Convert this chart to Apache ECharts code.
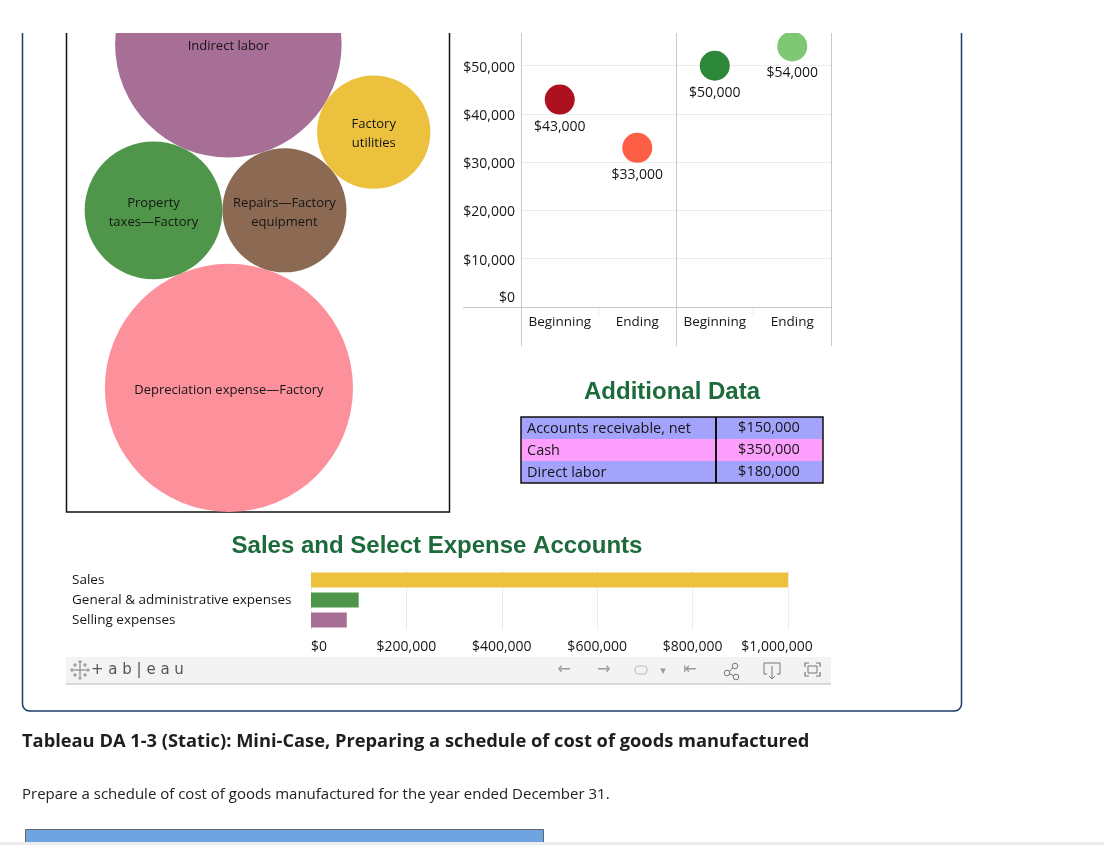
<!DOCTYPE html>
<html><head><meta charset="utf-8">
<script src="https://cdn.jsdelivr.net/npm/echarts@6/dist/echarts.min.js"></script>
<style>html,body{margin:0;padding:0;background:#fff;overflow:hidden}#c{width:1104px;height:845px}</style>
</head><body><div id="c"></div>
<script>
// ---------------- DATA ----------------
const bubbleNames  = ['Depreciation expense—Factory','Property taxes—Factory','Repairs—Factory equipment','Indirect labor','Factory utilities'];
const bubbleLabels = ['Depreciation expense—Factory','Property\ntaxes—Factory','Repairs—Factory\nequipment','Indirect labor','Factory\nutilities'];
const bubbleValues = [120000, 37000, 30000, 100000, 25000];

const inventoryCategories = ['Beginning','Ending'];
const rawMaterialsInventory = [43000, 33000];
const workInProcessInventory = [50000, 54000];
const inventoryTicks = [0, 10000, 20000, 30000, 40000, 50000];

const tableLabels = ['Accounts receivable, net','Cash','Direct labor'];
const tableValues = [150000, 350000, 180000];

const barCategories = ['Sales','General & administrative expenses','Selling expenses'];
const barValues = [1000000, 100000, 75000];
const barTicks = [0, 200000, 400000, 600000, 800000, 1000000];

// ---------------- STYLES ----------------
const bubbleColors = ['#fd919b','#50964a','#8c6952','#a76e96','#ebc13e'];
const rawColors = ['#ad101f','#fd5f46'];
const wipColors = ['#2c873b','#7fc775'];
const barColors = ['#ebc13e','#50964a','#a76e96'];
const rowColors = ['#a3a3fc','#fda0fd','#a3a3fc'];
const FONT = 'Open Sans';
const TC = '#151515';
const fmt = v => '$' + v.toLocaleString('en-US');

// ---------------- PACKED BUBBLE LAYOUT (from values) ----------------
const maxV = Math.max(...bubbleValues);
const rOf = v => 100 * Math.sqrt(v / maxV);
function tangent(a, b, r) {
  const dx = b.x - a.x, dy = b.y - a.y, d = Math.hypot(dx, dy);
  const ra = a.r + r, rb = b.r + r;
  const t = (ra * ra - rb * rb + d * d) / (2 * d);
  const h = Math.sqrt(Math.max(0, ra * ra - t * t));
  const ux = dx / d, uy = dy / d;
  const bx = a.x + ux * t, by = a.y + uy * t;
  return [{x: bx - uy * h, y: by + ux * h, r}, {x: bx + uy * h, y: by - ux * h, r}];
}
const rs = bubbleValues.map(rOf);
const C = [];
C[0] = {x: 0, y: 0, r: rs[0]};
const ang = -113 * Math.PI / 180;
C[1] = {x: Math.cos(ang) * (rs[0] + rs[1]), y: Math.sin(ang) * (rs[0] + rs[1]), r: rs[1]};
C[2] = tangent(C[0], C[1], rs[2]).sort((p, q) => q.x - p.x)[0];
C[3] = tangent(C[1], C[2], rs[3]).sort((p, q) => p.y - q.y)[0];
C[4] = tangent(C[3], C[2], rs[4]).sort((p, q) => q.x - p.x)[0];
const xmin = Math.min(...C.map(c => c.x - c.r)), xmax = Math.max(...C.map(c => c.x + c.r));
const ymin = Math.min(...C.map(c => c.y - c.r)), ymax = Math.max(...C.map(c => c.y + c.r));
const PANE_W = 383, PANE_H = 581;
const s = PANE_H / (ymax - ymin);
const offX = (PANE_W - s * (xmax - xmin)) / 2 - s * xmin;
const offY = -s * ymin;
const bubbleData = C.map((c, i) => ({
  name: bubbleNames[i],
  value: [s * c.x + offX, s * c.y + offY, bubbleValues[i]],
  itemStyle: {color: bubbleColors[i]}
}));

// ---------------- GRAPHICS ----------------
const g = [];
const txt = (text, x, y, o) => g.push(Object.assign({type: 'text', x, y, z: 50,
  style: Object.assign({text, fill: TC, fontSize: 13, fontFamily: FONT, align: 'left', verticalAlign: 'middle',
    textAlign: 'left', textVerticalAlign: 'middle'}, o || {})}));
const line = (x1, y1, x2, y2, stroke, lw, z) => g.push({type: 'line', z: z || 5, shape: {x1, y1, x2, y2}, style: {stroke, lineWidth: lw || 1}});

// outer container
g.push({type: 'rect', z: 1, shape: {x: 22.5, y: -20, width: 939, height: 731, r: 7}, style: {fill: 'none', stroke: '#1d3c6b', lineWidth: 1.5}});
// bubble box
g.push({type: 'rect', z: 1, shape: {x: 66.5, y: 0, width: 383, height: 512}, style: {fill: 'none', stroke: '#111', lineWidth: 1.5}});
// dot chart frame
line(463, 307.5, 831, 307.5, '#c8c8c8', 1);
[521.5, 676.5, 831.5].forEach(x => line(x, 0, x, 346, '#c8c8c8', 1));

// Additional Data
g.push({type: 'text', x: 672, y: 392, z: 50, style: {text: 'Additional Data', fill: '#1d6b3b', fontSize: 24, fontWeight: 'bold', fontFamily: 'Liberation Sans', align: 'center', verticalAlign: 'middle', textAlign: 'center', textVerticalAlign: 'middle'}});
const TX = 521, TY = 417, TW = 302, RH = 22, COL = 716;
tableLabels.forEach((lab, i) => {
  g.push({type: 'rect', z: 20, shape: {x: TX, y: TY + i * RH, width: TW, height: RH}, style: {fill: rowColors[i]}});
  txt(lab, 527, TY + i * RH + 11.5, {fontSize: 14.5});
  txt(fmt(tableValues[i]), 769, TY + i * RH + 11, {fontSize: 14.5, align: 'center', textAlign: 'center'});
});
g.push({type: 'rect', z: 30, shape: {x: TX, y: TY, width: TW, height: RH * tableLabels.length}, style: {fill: 'none', stroke: '#111', lineWidth: 1.5}});
line(COL, TY, COL, TY + RH * tableLabels.length, '#111', 2, 30);

// bar chart title
g.push({type: 'text', x: 437, y: 546, z: 50, style: {text: 'Sales and Select Expense Accounts', fill: '#1d6b3b', fontSize: 24, fontWeight: 'bold', fontFamily: 'Liberation Sans', align: 'center', verticalAlign: 'middle', textAlign: 'center', textVerticalAlign: 'middle'}});

// toolbar
g.push({type: 'rect', z: 3, shape: {x: 66, y: 657, width: 765, height: 27}, style: {fill: '#f3f3f3'}});
line(66, 684, 831, 684, '#cfcfcf', 1.5, 4);
// tableau logo
const lc = '#8a8a8a';
line(80, 664, 80, 676, lc, 1.2, 6); line(74, 670, 86, 670, lc, 1.2, 6);
[[80, 662], [80, 678], [72, 670], [88, 670], [75, 665], [85, 665], [75, 675], [85, 675]].forEach(([x, y]) => {
  line(x - 2, y, x + 2, y, lc, 1, 6); line(x, y - 2, x, y + 2, lc, 1, 6);
});
txt('+ a b | e a u', 91, 670.5, {fontSize: 15, fill: '#555', fontFamily: 'DejaVu Sans'});
const ic = '#9a9a9a';
txt('←', 564, 670, {fontSize: 16, fill: ic, fontFamily: 'DejaVu Sans', align: 'center', textAlign: 'center'});
txt('→', 604, 670, {fontSize: 16, fill: ic, fontFamily: 'DejaVu Sans', align: 'center', textAlign: 'center'});
g.push({type: 'rect', z: 6, shape: {x: 635, y: 666, width: 12, height: 8, r: 3}, style: {fill: 'none', stroke: '#bbb', lineWidth: 1}});
txt('▾', 663, 671, {fontSize: 11, fill: ic, fontFamily: 'DejaVu Sans', align: 'center', textAlign: 'center'});
txt('⇤', 690, 670, {fontSize: 16, fill: ic, fontFamily: 'DejaVu Sans', align: 'center', textAlign: 'center'});
[[727, 673], [735, 666], [736, 677]].forEach(([cx, cy]) => g.push({type: 'circle', z: 6, shape: {cx, cy, r: 2.8}, style: {fill: 'none', stroke: '#777', lineWidth: 1}}));
line(729.5, 671.5, 732.8, 667.8, '#777', 1, 6); line(729.8, 674, 733.6, 675.6, '#777', 1, 6);
g.push({type: 'polyline', z: 6, shape: {points: [[767, 674], [764, 674], [764, 663], [780, 663], [780, 674], [777, 674]]}, style: {fill: 'none', stroke: '#777', lineWidth: 1}});
line(772, 666, 772, 679, '#777', 1, 6);
g.push({type: 'polyline', z: 6, shape: {points: [[769, 676], [772, 679], [775, 676]]}, style: {fill: 'none', stroke: '#777', lineWidth: 1}});
[[[805, 667], [805, 663], [809, 663]], [[816, 663], [820, 663], [820, 667]], [[805, 672], [805, 676], [809, 676]], [[816, 676], [820, 676], [820, 672]]]
  .forEach(p => g.push({type: 'polyline', z: 6, shape: {points: p}, style: {fill: 'none', stroke: '#777', lineWidth: 1.2}}));
g.push({type: 'rect', z: 6, shape: {x: 808, y: 666, width: 9, height: 7}, style: {fill: 'none', stroke: '#777', lineWidth: 1}});

// page text
txt('Tableau DA 1-3 (Static): Mini-Case, Preparing a schedule of cost of goods manufactured', 22, 742, {fontSize: 18.3, fontWeight: 'bold', fontFamily: 'Open Sans', fill: '#1e1e1e'});
txt('Prepare a schedule of cost of goods manufactured for the year ended December 31.', 22, 795, {fontSize: 15, fontFamily: 'Open Sans', fill: '#222'});
g.push({type: 'rect', z: 5, shape: {x: 25.5, y: 829.5, width: 518, height: 24}, style: {fill: '#6fa4e1', stroke: '#666', lineWidth: 1}});
g.push({type: 'rect', z: 900, shape: {x: 0, y: 842, width: 1104, height: 3}, style: {fill: '#ececec'}});
// white top cover (page scrolled)
g.push({type: 'rect', z: 1000, shape: {x: 0, y: 0, width: 1104, height: 33}, style: {fill: '#fff'}});

// ---------------- OPTION ----------------
const gridBase = {containLabel: false, outerBoundsMode: 'none', show: false};
const catAxis = gi => ({
  gridIndex: gi, type: 'category', data: inventoryCategories, boundaryGap: true,
  axisLine: {show: false}, axisTick: {show: true, length: 9, lineStyle: {color: '#ececec'}},
  axisLabel: {interval: 0, margin: 8, fontSize: 13.5, color: TC, fontFamily: FONT}, splitLine: {show: false}
});
const valAxisY = (gi, showLabel) => ({
  gridIndex: gi, type: 'value', min: inventoryTicks[0], max: 59480, interval: inventoryTicks[1] - inventoryTicks[0],
  axisLine: {show: false}, axisTick: {show: false},
  splitLine: {show: true, lineStyle: {color: '#ececec'}},
  axisLabel: {show: showLabel, showMaxLabel: false, margin: 6, fontSize: 14, color: TC, fontFamily: FONT,
    formatter: v => inventoryTicks.indexOf(v) < 0 ? '' : (v === 0 ? '{z|$0}' : '{n|' + fmt(v) + '}'),
    rich: {z: {fontSize: 14, color: TC, fontFamily: FONT, padding: [0, 0, 18, 0]},
           n: {fontSize: 14, color: TC, fontFamily: FONT, padding: [4, 0, 0, 0]}}}
});
const dotSeries = (gi, vals, cols) => ({
  type: 'scatter', xAxisIndex: gi, yAxisIndex: gi, symbolSize: 30, z: 10,
  data: vals.map((v, i) => ({value: [i, v], itemStyle: {color: cols[i], opacity: 1}})),
  label: {show: true, position: 'bottom', distance: 5, formatter: p => fmt(p.value[1]), fontSize: 14, color: TC, fontFamily: FONT},
  emphasis: {disabled: true}
});

const option = {
  animation: false,
  textStyle: {fontFamily: FONT},
  grid: [
    Object.assign({left: 66, top: -69, width: PANE_W, height: PANE_H}, gridBase),
    Object.assign({left: 521, top: 20, width: 155, height: 287}, gridBase),
    Object.assign({left: 676, top: 20, width: 155, height: 287}, gridBase),
    Object.assign({left: 311, top: 570, width: 477, height: 60}, gridBase)
  ],
  xAxis: [
    {gridIndex: 0, type: 'value', min: 0, max: PANE_W, show: false},
    catAxis(1), catAxis(2),
    {gridIndex: 3, type: 'value', min: barTicks[0], max: barTicks[barTicks.length - 1], interval: barTicks[1] - barTicks[0],
      axisLine: {show: false}, axisTick: {show: false},
      splitLine: {show: true, lineStyle: {color: '#ececec'}},
      axisLabel: {margin: 10, fontSize: 14, color: TC, fontFamily: FONT, alignMinLabel: 'left',
        formatter: v => v === barTicks[barTicks.length - 1] ? '{last|' + fmt(v) + '}' : fmt(v),
        rich: {last: {fontSize: 14, color: TC, fontFamily: FONT, padding: [0, 22, 0, 0]}}}}
  ],
  yAxis: [
    {gridIndex: 0, type: 'value', min: 0, max: PANE_H, inverse: true, show: false},
    valAxisY(1, true), valAxisY(2, false),
    {gridIndex: 3, type: 'category', data: barCategories, inverse: true,
      axisLine: {show: false}, axisTick: {show: false}, splitLine: {show: false},
      axisLabel: {align: 'left', margin: 239, fontSize: 13.5, color: TC, fontFamily: FONT}}
  ],
  series: [
    {type: 'scatter', xAxisIndex: 0, yAxisIndex: 0, clip: false, z: 3,
      data: bubbleData,
      symbolSize: d => 2 * s * rOf(d[2]),
      itemStyle: {opacity: 1},
      label: {show: true, position: 'inside', offset: [0, 2], formatter: p => bubbleLabels[p.dataIndex], fontSize: 13, lineHeight: 19, color: TC, fontFamily: FONT},
      emphasis: {disabled: true}},
    dotSeries(1, rawMaterialsInventory, rawColors),
    dotSeries(2, workInProcessInventory, wipColors),
    {type: 'bar', xAxisIndex: 3, yAxisIndex: 3, barWidth: 15, z: 4,
      data: barValues.map((v, i) => ({value: v, itemStyle: {color: barColors[i]}})),
      emphasis: {disabled: true}}
  ],
  graphic: {elements: g}
};
const chart = echarts.init(document.getElementById('c'), null, {renderer: 'canvas'});
chart.setOption(option);
</script></body></html>
